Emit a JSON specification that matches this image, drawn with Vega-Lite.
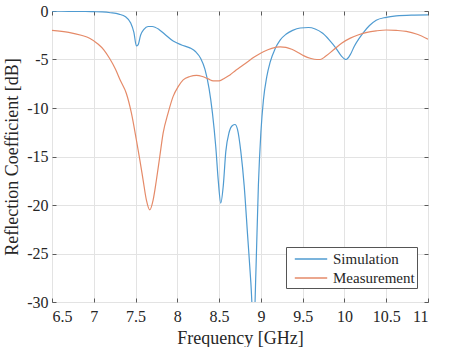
{
  "$schema": "https://vega.github.io/schema/vega-lite/v6.json",
  "width": 376,
  "height": 291,
  "autosize": {"type": "none"},
  "padding": {"left": 52, "top": 11, "right": 46, "bottom": 45},
  "background": "white",
  "config": {
    "font": "Liberation Serif",
    "view": {"stroke": "#5a5a5a", "strokeWidth": 1},
    "axis": {
      "labelFont": "Liberation Serif",
      "titleFont": "Liberation Serif",
      "labelFontSize": 16,
      "titleFontSize": 18,
      "labelColor": "#262626",
      "titleColor": "#262626",
      "titleFontWeight": "normal",
      "domain": false,
      "tickColor": "#5a5a5a",
      "gridColor": "#e3e3e3",
      "gridWidth": 1
    },
    "legend": {"labelFont": "Liberation Serif"}
  },
  "data": {"values": [
    {"f": 6.5, "db": -0.02, "s": "Simulation"},
    {"f": 6.7, "db": -0.03, "s": "Simulation"},
    {"f": 6.9, "db": -0.05, "s": "Simulation"},
    {"f": 7.0, "db": -0.07, "s": "Simulation"},
    {"f": 7.1, "db": -0.1, "s": "Simulation"},
    {"f": 7.2, "db": -0.18, "s": "Simulation"},
    {"f": 7.3, "db": -0.32, "s": "Simulation"},
    {"f": 7.38, "db": -0.6, "s": "Simulation"},
    {"f": 7.44, "db": -1.2, "s": "Simulation"},
    {"f": 7.48, "db": -2.2, "s": "Simulation"},
    {"f": 7.51, "db": -3.6, "s": "Simulation"},
    {"f": 7.53, "db": -3.5, "s": "Simulation"},
    {"f": 7.56, "db": -2.5, "s": "Simulation"},
    {"f": 7.6, "db": -1.9, "s": "Simulation"},
    {"f": 7.65, "db": -1.6, "s": "Simulation"},
    {"f": 7.7, "db": -1.6, "s": "Simulation"},
    {"f": 7.78, "db": -1.9, "s": "Simulation"},
    {"f": 7.85, "db": -2.4, "s": "Simulation"},
    {"f": 7.95, "db": -3.1, "s": "Simulation"},
    {"f": 8.05, "db": -3.5, "s": "Simulation"},
    {"f": 8.15, "db": -3.8, "s": "Simulation"},
    {"f": 8.22, "db": -4.2, "s": "Simulation"},
    {"f": 8.28, "db": -4.9, "s": "Simulation"},
    {"f": 8.33, "db": -6.0, "s": "Simulation"},
    {"f": 8.38, "db": -8.0, "s": "Simulation"},
    {"f": 8.42, "db": -10.5, "s": "Simulation"},
    {"f": 8.46, "db": -14, "s": "Simulation"},
    {"f": 8.49, "db": -17.5, "s": "Simulation"},
    {"f": 8.52, "db": -19.8, "s": "Simulation"},
    {"f": 8.55, "db": -18, "s": "Simulation"},
    {"f": 8.58, "db": -14.5, "s": "Simulation"},
    {"f": 8.62, "db": -12.5, "s": "Simulation"},
    {"f": 8.66, "db": -11.8, "s": "Simulation"},
    {"f": 8.69, "db": -11.7, "s": "Simulation"},
    {"f": 8.72, "db": -12.2, "s": "Simulation"},
    {"f": 8.76, "db": -14.5, "s": "Simulation"},
    {"f": 8.8, "db": -18, "s": "Simulation"},
    {"f": 8.84, "db": -23, "s": "Simulation"},
    {"f": 8.88, "db": -28, "s": "Simulation"},
    {"f": 8.915, "db": -33, "s": "Simulation"},
    {"f": 8.94, "db": -27, "s": "Simulation"},
    {"f": 8.97, "db": -18, "s": "Simulation"},
    {"f": 9.0, "db": -12.5, "s": "Simulation"},
    {"f": 9.03, "db": -9.2, "s": "Simulation"},
    {"f": 9.07, "db": -6.8, "s": "Simulation"},
    {"f": 9.11, "db": -5.3, "s": "Simulation"},
    {"f": 9.17, "db": -3.9, "s": "Simulation"},
    {"f": 9.23, "db": -3.0, "s": "Simulation"},
    {"f": 9.3, "db": -2.4, "s": "Simulation"},
    {"f": 9.38, "db": -2.0, "s": "Simulation"},
    {"f": 9.47, "db": -1.75, "s": "Simulation"},
    {"f": 9.57, "db": -1.7, "s": "Simulation"},
    {"f": 9.65, "db": -1.85, "s": "Simulation"},
    {"f": 9.74, "db": -2.3, "s": "Simulation"},
    {"f": 9.82, "db": -3.0, "s": "Simulation"},
    {"f": 9.9, "db": -3.85, "s": "Simulation"},
    {"f": 9.96, "db": -4.6, "s": "Simulation"},
    {"f": 10.02, "db": -5.0, "s": "Simulation"},
    {"f": 10.07, "db": -4.5, "s": "Simulation"},
    {"f": 10.12, "db": -3.6, "s": "Simulation"},
    {"f": 10.17, "db": -2.9, "s": "Simulation"},
    {"f": 10.22, "db": -2.3, "s": "Simulation"},
    {"f": 10.3, "db": -1.5, "s": "Simulation"},
    {"f": 10.38, "db": -0.95, "s": "Simulation"},
    {"f": 10.5, "db": -0.65, "s": "Simulation"},
    {"f": 10.62, "db": -0.5, "s": "Simulation"},
    {"f": 10.8, "db": -0.42, "s": "Simulation"},
    {"f": 11.0, "db": -0.4, "s": "Simulation"},
    {"f": 6.5, "db": -2.0, "s": "Measurement"},
    {"f": 6.7, "db": -2.2, "s": "Measurement"},
    {"f": 6.85, "db": -2.5, "s": "Measurement"},
    {"f": 6.95, "db": -2.8, "s": "Measurement"},
    {"f": 7.05, "db": -3.4, "s": "Measurement"},
    {"f": 7.12, "db": -4.0, "s": "Measurement"},
    {"f": 7.19, "db": -4.9, "s": "Measurement"},
    {"f": 7.26, "db": -6.0, "s": "Measurement"},
    {"f": 7.32, "db": -7.2, "s": "Measurement"},
    {"f": 7.39, "db": -8.5, "s": "Measurement"},
    {"f": 7.45, "db": -10.5, "s": "Measurement"},
    {"f": 7.51, "db": -13.3, "s": "Measurement"},
    {"f": 7.55, "db": -15.3, "s": "Measurement"},
    {"f": 7.59, "db": -17.4, "s": "Measurement"},
    {"f": 7.63, "db": -19.5, "s": "Measurement"},
    {"f": 7.67, "db": -20.5, "s": "Measurement"},
    {"f": 7.71, "db": -19.5, "s": "Measurement"},
    {"f": 7.75, "db": -17.4, "s": "Measurement"},
    {"f": 7.79, "db": -15.0, "s": "Measurement"},
    {"f": 7.83, "db": -12.6, "s": "Measurement"},
    {"f": 7.89, "db": -10.5, "s": "Measurement"},
    {"f": 7.95, "db": -8.8, "s": "Measurement"},
    {"f": 8.01, "db": -7.8, "s": "Measurement"},
    {"f": 8.07, "db": -7.1, "s": "Measurement"},
    {"f": 8.15, "db": -6.75, "s": "Measurement"},
    {"f": 8.23, "db": -6.63, "s": "Measurement"},
    {"f": 8.3, "db": -6.75, "s": "Measurement"},
    {"f": 8.37, "db": -7.0, "s": "Measurement"},
    {"f": 8.43, "db": -7.2, "s": "Measurement"},
    {"f": 8.5, "db": -7.2, "s": "Measurement"},
    {"f": 8.57, "db": -6.9, "s": "Measurement"},
    {"f": 8.63, "db": -6.6, "s": "Measurement"},
    {"f": 8.7, "db": -6.1, "s": "Measurement"},
    {"f": 8.75, "db": -5.8, "s": "Measurement"},
    {"f": 8.83, "db": -5.3, "s": "Measurement"},
    {"f": 8.93, "db": -4.7, "s": "Measurement"},
    {"f": 9.03, "db": -4.2, "s": "Measurement"},
    {"f": 9.13, "db": -3.85, "s": "Measurement"},
    {"f": 9.23, "db": -3.7, "s": "Measurement"},
    {"f": 9.3, "db": -3.75, "s": "Measurement"},
    {"f": 9.37, "db": -3.95, "s": "Measurement"},
    {"f": 9.45, "db": -4.3, "s": "Measurement"},
    {"f": 9.51, "db": -4.6, "s": "Measurement"},
    {"f": 9.6, "db": -4.9, "s": "Measurement"},
    {"f": 9.67, "db": -5.0, "s": "Measurement"},
    {"f": 9.71, "db": -5.0, "s": "Measurement"},
    {"f": 9.77, "db": -4.7, "s": "Measurement"},
    {"f": 9.87, "db": -4.0, "s": "Measurement"},
    {"f": 9.97, "db": -3.3, "s": "Measurement"},
    {"f": 10.07, "db": -2.8, "s": "Measurement"},
    {"f": 10.17, "db": -2.45, "s": "Measurement"},
    {"f": 10.27, "db": -2.2, "s": "Measurement"},
    {"f": 10.38, "db": -2.05, "s": "Measurement"},
    {"f": 10.5, "db": -1.96, "s": "Measurement"},
    {"f": 10.62, "db": -2.0, "s": "Measurement"},
    {"f": 10.74, "db": -2.1, "s": "Measurement"},
    {"f": 10.87, "db": -2.4, "s": "Measurement"},
    {"f": 11.0, "db": -2.9, "s": "Measurement"}
  ]},
  "layer": [
    {
      "mark": {"type": "line", "interpolate": "monotone", "strokeWidth": 1.2, "clip": true},
      "encoding": {
        "x": {
          "field": "f", "type": "quantitative",
          "scale": {"domain": [6.5, 11], "nice": false},
          "axis": {
            "orient": "bottom",
            "title": "Frequency [GHz]",
            "values": [6.5, 7, 7.5, 8, 8.5, 9, 9.5, 10, 10.5, 11],
            "labelExpr": "toString(datum.value)",
            "labelFont": "Liberation Serif",
            "tickSize": -4,
            "labelPadding": 10,
            "titlePadding": 5
          }
        },
        "y": {
          "field": "db", "type": "quantitative",
          "scale": {"domain": [-30, 0], "nice": false, "zero": false},
          "axis": {
            "orient": "left",
            "title": "Reflection Coefficient [dB]",
            "values": [0, -5, -10, -15, -20, -25, -30],
            "labelExpr": "toString(datum.value)",
            "labelFont": "Liberation Serif",
            "tickSize": -4,
            "labelPadding": 8,
            "titlePadding": 5
          }
        },
        "color": {
          "field": "s", "type": "nominal",
          "scale": {"domain": ["Simulation", "Measurement"], "range": ["#4f9bd1", "#e58a68"]},
          "legend": {
            "orient": "none",
            "legendX": 234,
            "legendY": 236,
            "title": null,
            "symbolType": "M-1.8,0H1.8",
            "symbolSize": 324,
            "symbolStrokeWidth": 1.5,
            "symbolFillColor": "transparent",
            "symbolOffset": 13,
            "labelFont": "Liberation Serif",
            "labelFontSize": 15,
            "labelColor": "#262626",
            "labelOffset": 12,
            "rowPadding": 1,
            "padding": 2,
            "strokeColor": "#555555",
            "fillColor": "white"
          }
        }
      }
    },
    {
      "mark": {"type": "line", "opacity": 0},
      "encoding": {
        "x": {
          "field": "f", "type": "quantitative",
          "axis": {"orient": "top", "title": null, "labels": false, "grid": false,
                   "values": [6.5, 7, 7.5, 8, 8.5, 9, 9.5, 10, 10.5, 11], "tickSize": -4}
        },
        "y": {
          "field": "db", "type": "quantitative",
          "axis": {"orient": "right", "title": null, "labels": false, "grid": false,
                   "values": [0, -5, -10, -15, -20, -25, -30], "tickSize": -4}
        }
      }
    }
  ],
  "resolve": {"axis": {"x": "independent", "y": "independent"}}
}
